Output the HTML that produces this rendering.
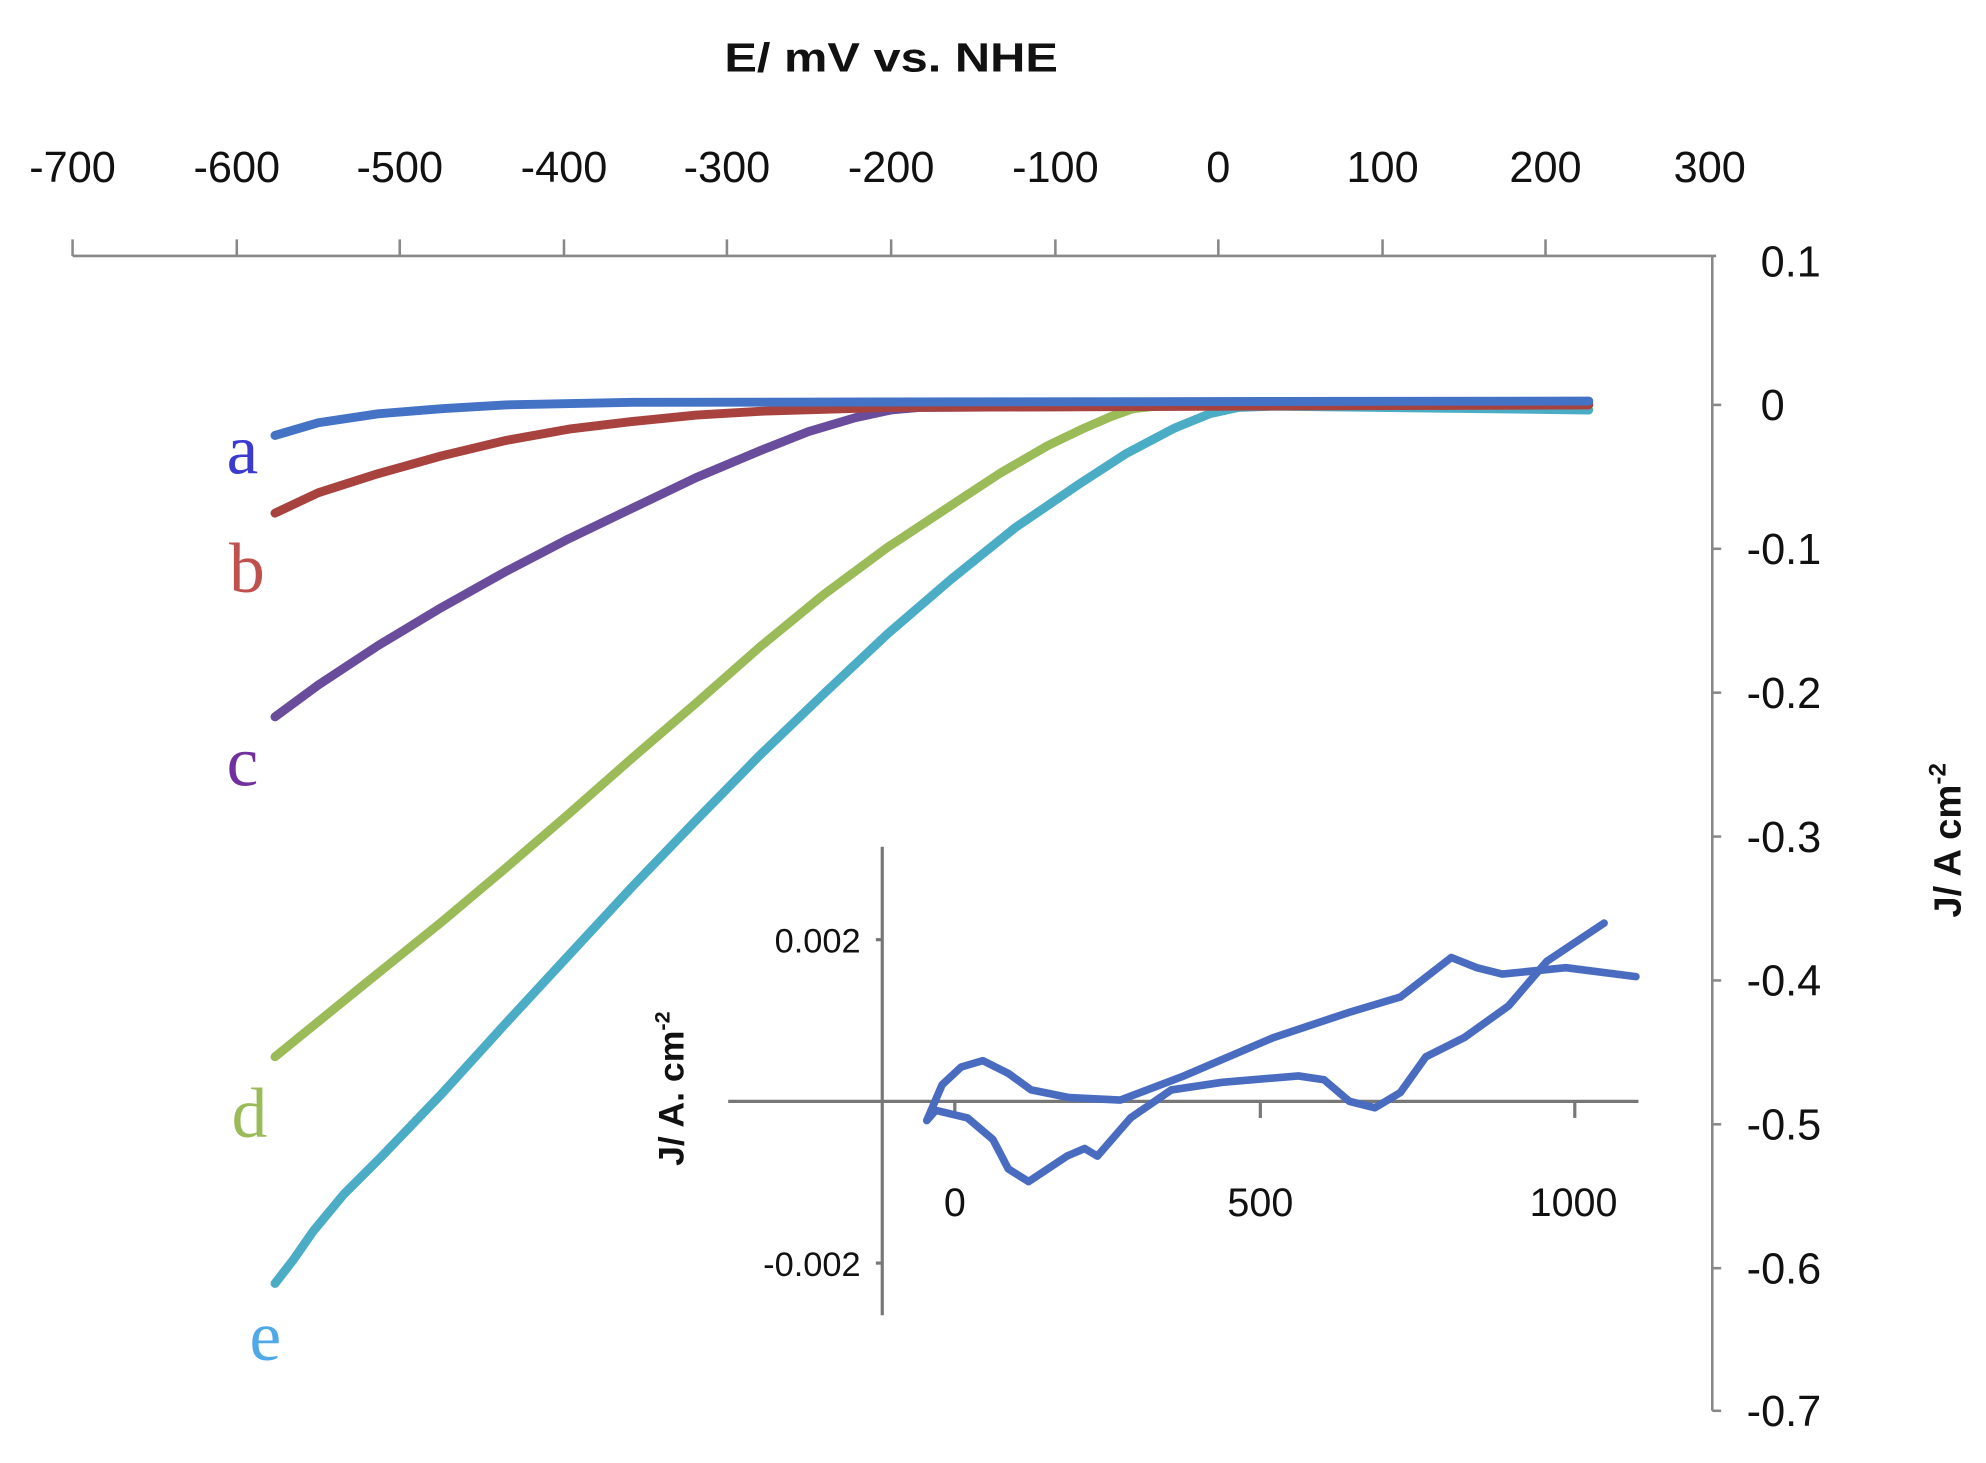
<!DOCTYPE html>
<html><head><meta charset="utf-8"><style>
html,body{margin:0;padding:0;background:#fff;}
svg{display:block}
text{font-family:"Liberation Sans",sans-serif;}
text.lbl{font-family:"Liberation Serif",serif;}
</style></head><body>
<svg width="1986" height="1463" viewBox="0 0 1560 1149" preserveAspectRatio="none" xmlns="http://www.w3.org/2000/svg">
<rect width="1560" height="1149" fill="#fff"/>
<text x="700" y="56" font-size="32" font-weight="bold" text-anchor="middle" fill="#111" textLength="262" lengthAdjust="spacingAndGlyphs">E/ mV vs. NHE</text>
<g font-size="34" fill="#111" text-anchor="middle">
<text x="57" y="143">-700</text><text x="186" y="143">-600</text><text x="314" y="143">-500</text><text x="443" y="143">-400</text><text x="571" y="143">-300</text><text x="700" y="143">-200</text><text x="829" y="143">-100</text><text x="957" y="143">0</text><text x="1086" y="143">100</text><text x="1214" y="143">200</text><text x="1343" y="143">300</text>
</g>
<g stroke="#888" stroke-width="2" fill="none">
<line x1="57" y1="201" x2="1348" y2="201"/>
<line x1="1345" y1="201" x2="1345" y2="1108"/>
<line x1="57" y1="188" x2="57" y2="201"/><line x1="186" y1="188" x2="186" y2="201"/><line x1="314" y1="188" x2="314" y2="201"/><line x1="443" y1="188" x2="443" y2="201"/><line x1="571" y1="188" x2="571" y2="201"/><line x1="700" y1="188" x2="700" y2="201"/><line x1="829" y1="188" x2="829" y2="201"/><line x1="957" y1="188" x2="957" y2="201"/><line x1="1086" y1="188" x2="1086" y2="201"/><line x1="1214" y1="188" x2="1214" y2="201"/>
<line x1="1345" y1="318" x2="1352" y2="318"/><line x1="1345" y1="431" x2="1352" y2="431"/><line x1="1345" y1="544" x2="1352" y2="544"/><line x1="1345" y1="657" x2="1352" y2="657"/><line x1="1345" y1="770" x2="1352" y2="770"/><line x1="1345" y1="883" x2="1352" y2="883"/><line x1="1345" y1="996" x2="1352" y2="996"/><line x1="1345" y1="1108" x2="1352" y2="1108"/>
</g>
<g font-size="34" fill="#111">
<text x="1383" y="217">0.1</text><text x="1383" y="330">0</text><text x="1372" y="443">-0.1</text><text x="1372" y="556">-0.2</text><text x="1372" y="669">-0.3</text><text x="1372" y="782">-0.4</text><text x="1372" y="895">-0.5</text><text x="1372" y="1008">-0.6</text><text x="1372" y="1120">-0.7</text>
</g>
<text transform="translate(1540,660) rotate(-90)" font-size="30" font-weight="bold" text-anchor="middle" fill="#111">J/ A cm<tspan font-size="19" dy="-12">-2</tspan></text>
<g fill="none" stroke-width="7" stroke-linecap="round" stroke-linejoin="round">
<polyline stroke="#4BACC6" points="216,1008 230,990 246,967 270,938 300,908 347,859 397,804 447,750 497,696 547,644 597,593 647,545 697,498 747,455 798,414 848,380 885,356 923,336 950,325 973,320 1000,319 1248,322"/>
<polyline stroke="#9BBB59" points="216,830 280,778 347,724 397,682 447,639 497,595 547,552 597,508 647,467 697,430 747,397 785,372 823,350 850,337 873,327 890,321 908,319 1248,318"/>
<polyline stroke="#6A4C9C" points="216,563 250,538 297,507 347,477 397,449 447,423 497,399 547,375 597,354 635,339 672,328 700,322 722,320 1248,317"/>
<polyline stroke="#A8423F" points="216,403 250,387 297,372 347,358 397,346 447,337 497,331 547,326 597,323 697,320 1248,318"/>
<polyline stroke="#4472C4" points="216,342 250,332 297,325 347,321 397,318 497,316 1248,315"/>
</g>
<g font-size="56">
<text class="lbl" x="178" y="372" fill="#3B3BD0">a</text>
<text class="lbl" x="180" y="465" fill="#C0504D">b</text>
<text class="lbl" x="178" y="617" fill="#7030A0">c</text>
<text class="lbl" x="182" y="893" fill="#9BBB59">d</text>
<text class="lbl" x="196" y="1068" fill="#4FA8E8">e</text>
</g>
<g stroke="#777" stroke-width="2.5" fill="none">
<line x1="693" y1="665" x2="693" y2="1033"/>
<line x1="572" y1="865" x2="1287" y2="865"/>
<line x1="750" y1="865" x2="750" y2="878"/><line x1="990" y1="865" x2="990" y2="878"/><line x1="1237" y1="865" x2="1237" y2="878"/>
<line x1="688" y1="738" x2="693" y2="738"/><line x1="688" y1="992" x2="693" y2="992"/>
</g>
<g font-size="31" fill="#111" text-anchor="middle">
<text x="750" y="955">0</text><text x="990" y="955">500</text><text x="1236" y="955">1000</text>
</g>
<g font-size="27" fill="#111" text-anchor="end">
<text x="676" y="748">0.002</text><text x="676" y="1002">-0.002</text>
</g>
<text transform="translate(537,855) rotate(-90)" font-size="28" font-weight="bold" text-anchor="middle" fill="#111">J/ A. cm<tspan font-size="17" dy="-11">-2</tspan></text>
<g fill="none" stroke="#4A6CC0" stroke-width="6" stroke-linecap="round" stroke-linejoin="round">
<path d="M728,880 L740,852 L755,838 L772,833 L792,843 L810,856 L840,862 L880,864 L930,845 L1000,815 L1060,795 L1100,783 L1140,752 L1160,760 L1180,765 L1230,760 L1285,767"/>
<path d="M728,880 L735,872 L760,878 L780,895 L792,918 L808,928 L838,908 L852,902 L862,908 L888,878 L920,856 L960,850 L1020,845 L1040,848 L1060,865 L1080,870 L1100,858 L1120,830 L1150,815 L1185,790 L1215,755 L1260,725"/>
</g>
</svg>
</body></html>
